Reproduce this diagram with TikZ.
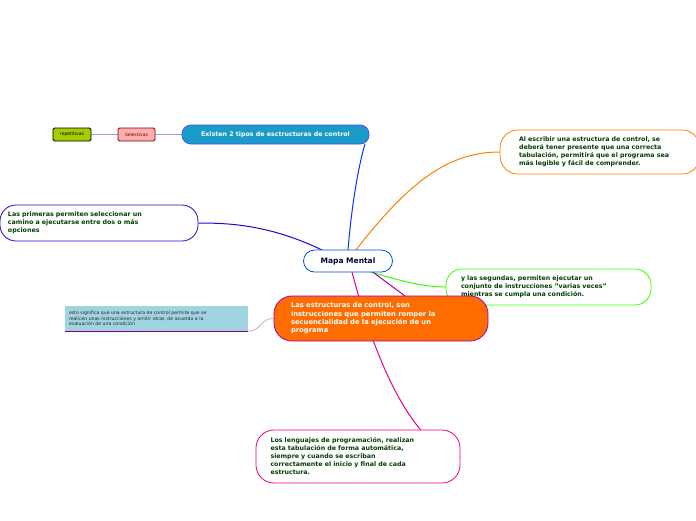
\documentclass[tikz,border=0pt]{standalone}
\usepackage{fontspec}
\setmainfont{DejaVu Sans}
\pgfdeclarelayer{bg}\pgfsetlayers{bg,main}
\definecolor{exfill}{RGB}{26,156,200}
\definecolor{esfill}{RGB}{160,212,224}
\begin{document}
\begin{tikzpicture}[x=1pt,y=-1pt,
 tbox/.style={rounded corners=11pt,draw,line width=0.8pt,fill=white,align=left,font=\bfseries\fontsize{6.3}{8}\selectfont,text=green!25!black,inner sep=0pt},
 small/.style={draw,line width=0.9pt,rounded corners=1.5pt,font=\fontsize{4.5}{5}\selectfont,inner sep=0pt},
 conn/.style={line width=1pt}]
\useasboundingbox (0,0) rectangle (696,520);
\coordinate (mt) at (348,250); \coordinate (mtl) at (322,250); \coordinate (mtr) at (356,250);
\coordinate (mb) at (352,272); \coordinate (mr) at (370,272);
\node[tbox,draw=blue!60!cyan!80!black,minimum width=89pt,minimum height=22pt,text=blue!20!black,font=\bfseries\fontsize{7.5}{9}\selectfont] (m) at (348,261) {Mapa Mental};
\node[tbox,rounded corners=9pt,fill=exfill,draw=blue!70,text=white,minimum width=187pt,minimum height=19pt] (e) at (275.5,134.5) {Existen 2 tipos de esctructuras de control};
\coordinate (eb) at (365,144);
\node[small,fill=red!20!pink!80,draw=red!50!black,text=red!40!black,minimum width=37pt,minimum height=13pt] (s) at (136.5,134.5) {Selectivas};
\node[small,fill=lime!60!olive,draw=black,minimum width=38pt,minimum height=13pt] (r) at (72,134.5) {repetitivas};
\node[tbox,rounded corners=16pt,draw=blue!60!violet,minimum width=198pt,minimum height=36pt,text width=182pt] (p) at (99,223) {Las primeras permiten seleccionar un\\camino a ejecutarse entre dos o más\\opciones};
\node[tbox,rounded corners=18pt,draw=orange,minimum width=200pt,minimum height=44pt,text width=162pt] (a) at (600,152) {Al escribir una estructura de control, se\\deberá tener presente que una correcta\\tabulación, permitirá que el programa sea\\más legible y fácil de comprender.};
\node[tbox,rounded corners=16pt,draw=green!70!lime,minimum width=205pt,minimum height=36pt,text width=175pt] (y) at (548.5,287) {y las segundas, permiten ejecutar un\\conjunto de instrucciones "varias veces"\\mientras se cumpla una condición.};
\node[tbox,rounded corners=18pt,fill=orange!85!red,draw=violet!70!magenta,text=white,minimum width=214pt,minimum height=45pt,text width=180pt,font=\bfseries\fontsize{6.8}{8.3}\selectfont] (o) at (381,318.5) {Las estructuras de control, son\\instrucciones que permiten romper la\\secuencialidad de la ejecución de un\\programa};
\node[fill=esfill,text=gray!30!black,minimum width=183pt,minimum height=25pt,text width=175pt,align=left,inner sep=0pt,font=\fontsize{4.6}{5.6}\selectfont] (es) at (156.5,318.5) {esto significa que una estructura de control permite que se\\realicen unas instrucciones y omitir otras, de acuerdo a la\\evaluación de una condición};
\draw[violet,line width=1pt] (es.south west) -- (es.south east);
\node[tbox,rounded corners=18pt,draw=magenta,minimum width=204pt,minimum height=53pt,text width=175pt] (l) at (358,456.5) {Los lenguajes de programación, realizan\\esta tabulación de forma automática,\\siempre y cuando se escriban\\correctamente el inicio y final de cada\\estructura.};
\begin{pgfonlayer}{bg}
\draw[conn,blue!80!cyan] (mt) .. controls (352,200) and (360,160) .. (eb);
\draw[conn,blue!70!violet] (mtl) .. controls (270,225) and (230,223) .. (p.east);
\draw[conn,orange] (mtr) .. controls (410,180) and (450,152) .. (a.west);
\draw[conn,green!70!lime] (mr) .. controls (400,280) and (420,287) .. (y.west);
\draw[conn,violet!70!magenta] (370,270) -- (405,296);
\draw[conn,magenta] (mb) .. controls (380,380) and (420,450) .. (l.east);
\draw[conn,violet!30] (o.west) .. controls (260,318) and (262,331) .. (es.south east);
\draw[blue!40,line width=0.8pt] (e.west) -- (s.east);
\draw[blue!40,line width=0.8pt] (s.west) -- (r.east);
\end{pgfonlayer}
\end{tikzpicture}
\end{document}
